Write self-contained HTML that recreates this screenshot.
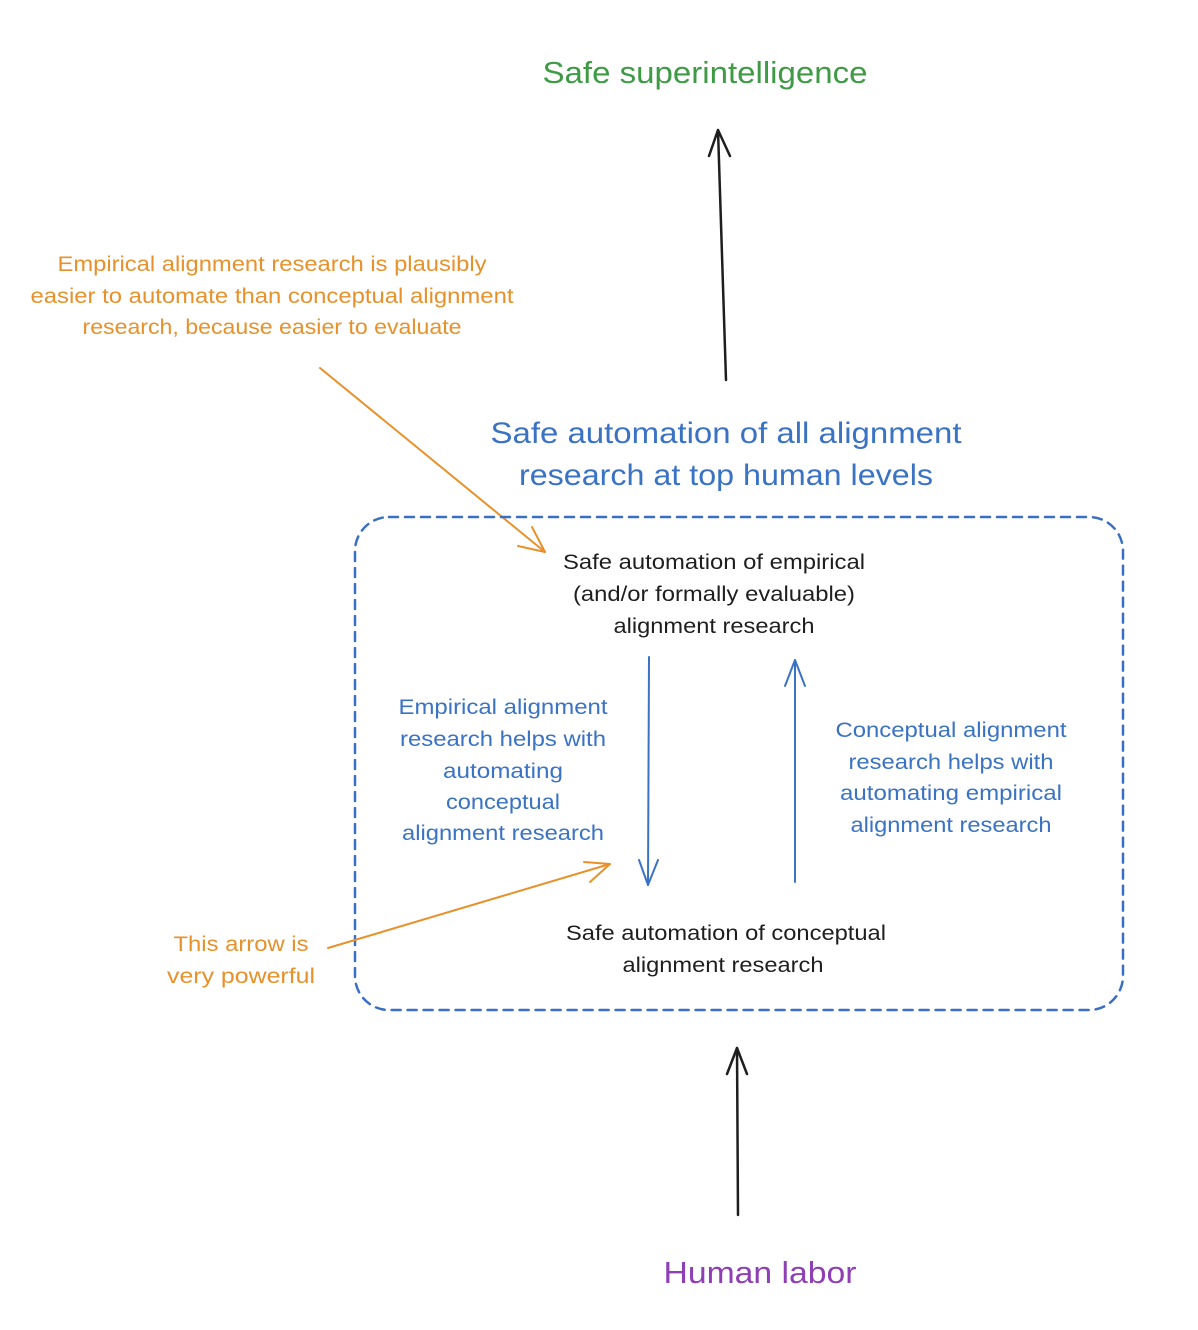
<!DOCTYPE html>
<html><head><meta charset="utf-8"><style>
html,body{margin:0;padding:0;background:#fff;}
svg{display:block;}
text{font-family:"Liberation Sans",sans-serif;text-anchor:middle;}
</style></head><body>
<svg width="1198" height="1330" viewBox="0 0 1198 1330" xmlns="http://www.w3.org/2000/svg">
<g fill="none" stroke-linecap="round" stroke-linejoin="round">
  <path d="M726 380 L718 130" stroke="#1e1e1e" stroke-width="2.5"/>
  <path d="M709 156 L718 130 L730 156" stroke="#1e1e1e" stroke-width="2.5"/>
  <path d="M320 368 L545 552" stroke="#e8912a" stroke-width="2"/>
  <path d="M518 546 L545 552 L532 527" stroke="#e8912a" stroke-width="2"/>
  <rect x="355" y="517" width="768" height="493" rx="34" stroke="#3a6fc2" stroke-width="2.5" stroke-dasharray="9 7"/>
  <path d="M649 657 L648 885" stroke="#3a72c4" stroke-width="2"/>
  <path d="M639 860 L648 885 L658 860" stroke="#3a72c4" stroke-width="2"/>
  <path d="M795 882 L795 660" stroke="#3a72c4" stroke-width="2"/>
  <path d="M785 686 L795 660 L805 686" stroke="#3a72c4" stroke-width="2"/>
  <path d="M328 948 L610 864" stroke="#e8912a" stroke-width="2"/>
  <path d="M584 862 L610 864 L590 882" stroke="#e8912a" stroke-width="2"/>
  <path d="M738 1215 L737 1048" stroke="#1e1e1e" stroke-width="2.5"/>
  <path d="M727 1074 L737 1048 L747 1074" stroke="#1e1e1e" stroke-width="2.5"/>
</g>
<g lengthAdjust="spacingAndGlyphs">
<text x="705" y="83" font-size="31" fill="#3f9a46" textLength="325" lengthAdjust="spacingAndGlyphs">Safe superintelligence</text>
<g font-size="21" fill="#e8912a">
  <text x="272" y="271" textLength="429" lengthAdjust="spacingAndGlyphs">Empirical alignment research is plausibly</text>
  <text x="272" y="303" textLength="483" lengthAdjust="spacingAndGlyphs">easier to automate than conceptual alignment</text>
  <text x="272" y="334" textLength="379" lengthAdjust="spacingAndGlyphs">research, because easier to evaluate</text>
</g>
<g font-size="30" fill="#3a72c4">
  <text x="726" y="443" textLength="471" lengthAdjust="spacingAndGlyphs">Safe automation of all alignment</text>
  <text x="726" y="485" textLength="414" lengthAdjust="spacingAndGlyphs">research at top human levels</text>
</g>
<g font-size="21" fill="#1e1e1e">
  <text x="714" y="569" textLength="302" lengthAdjust="spacingAndGlyphs">Safe automation of empirical</text>
  <text x="714" y="601" textLength="282" lengthAdjust="spacingAndGlyphs">(and/or formally evaluable)</text>
  <text x="714" y="633" textLength="201" lengthAdjust="spacingAndGlyphs">alignment research</text>
  <text x="726" y="940" textLength="320" lengthAdjust="spacingAndGlyphs">Safe automation of conceptual</text>
  <text x="723" y="972" textLength="201" lengthAdjust="spacingAndGlyphs">alignment research</text>
</g>
<g font-size="21" fill="#3a72c4">
  <text x="503" y="714" textLength="209" lengthAdjust="spacingAndGlyphs">Empirical alignment</text>
  <text x="503" y="746" textLength="206" lengthAdjust="spacingAndGlyphs">research helps with</text>
  <text x="503" y="778" textLength="120" lengthAdjust="spacingAndGlyphs">automating</text>
  <text x="503" y="809" textLength="114" lengthAdjust="spacingAndGlyphs">conceptual</text>
  <text x="503" y="840" textLength="202" lengthAdjust="spacingAndGlyphs">alignment research</text>
  <text x="951" y="737" textLength="231" lengthAdjust="spacingAndGlyphs">Conceptual alignment</text>
  <text x="951" y="769" textLength="205" lengthAdjust="spacingAndGlyphs">research helps with</text>
  <text x="951" y="800" textLength="222" lengthAdjust="spacingAndGlyphs">automating empirical</text>
  <text x="951" y="832" textLength="201" lengthAdjust="spacingAndGlyphs">alignment research</text>
</g>
<g font-size="21" fill="#e8912a">
  <text x="241" y="951" textLength="135" lengthAdjust="spacingAndGlyphs">This arrow is</text>
  <text x="241" y="983" textLength="148" lengthAdjust="spacingAndGlyphs">very powerful</text>
</g>
<text x="760" y="1283" font-size="31" fill="#8e3fb3" textLength="193" lengthAdjust="spacingAndGlyphs">Human labor</text>
</g>
</svg>
</body></html>
